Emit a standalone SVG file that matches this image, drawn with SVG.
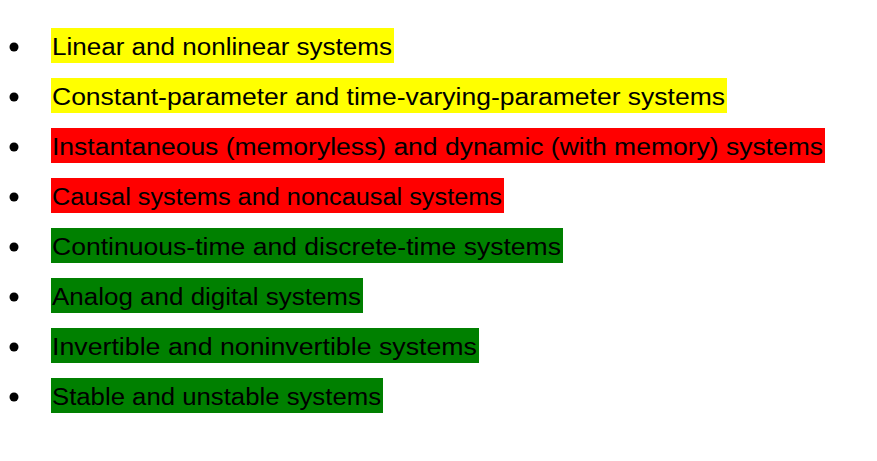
<svg xmlns="http://www.w3.org/2000/svg" width="877" height="461" viewBox="0 0 877 461">
<style>
text{font-family:"Liberation Sans",Arial,sans-serif;font-size:23px;fill:#000}
.y{fill:#ffff00}.r{fill:#ff0000}.g{fill:#008000}
</style>
<rect width="877" height="461" fill="#fff"/>
<g id="item1"><circle cx="14" cy="47" r="4.5"/><rect class="y" x="51" y="28" width="343" height="35"/><text x="52" y="55" textLength="340" lengthAdjust="spacingAndGlyphs">Linear and nonlinear systems</text></g>
<g id="item2"><circle cx="14" cy="97" r="4.5"/><rect class="y" x="51" y="78" width="676" height="35"/><text x="52" y="105" textLength="673" lengthAdjust="spacingAndGlyphs">Constant-parameter and time-varying-parameter systems</text></g>
<g id="item3"><circle cx="14" cy="147" r="4.5"/><rect class="r" x="51" y="128" width="774" height="35"/><text x="52" y="155" textLength="771" lengthAdjust="spacingAndGlyphs">Instantaneous (memoryless) and dynamic (with memory) systems</text></g>
<g id="item4"><circle cx="14" cy="197" r="4.5"/><rect class="r" x="51" y="178" width="453" height="35"/><text x="52" y="205" textLength="450" lengthAdjust="spacingAndGlyphs">Causal systems and noncausal systems</text></g>
<g id="item5"><circle cx="14" cy="247" r="4.5"/><rect class="g" x="51" y="228" width="512" height="35"/><text x="52" y="255" textLength="509" lengthAdjust="spacingAndGlyphs">Continuous-time and discrete-time systems</text></g>
<g id="item6"><circle cx="14" cy="297" r="4.5"/><rect class="g" x="51" y="278" width="312" height="35"/><text x="52" y="305" textLength="309" lengthAdjust="spacingAndGlyphs">Analog and digital systems</text></g>
<g id="item7"><circle cx="14" cy="347" r="4.5"/><rect class="g" x="51" y="328" width="428" height="35"/><text x="52" y="355" textLength="425" lengthAdjust="spacingAndGlyphs">Invertible and noninvertible systems</text></g>
<g id="item8"><circle cx="14" cy="397" r="4.5"/><rect class="g" x="51" y="378" width="332" height="35"/><text x="52" y="405" textLength="329" lengthAdjust="spacingAndGlyphs">Stable and unstable systems</text></g>
</svg>
